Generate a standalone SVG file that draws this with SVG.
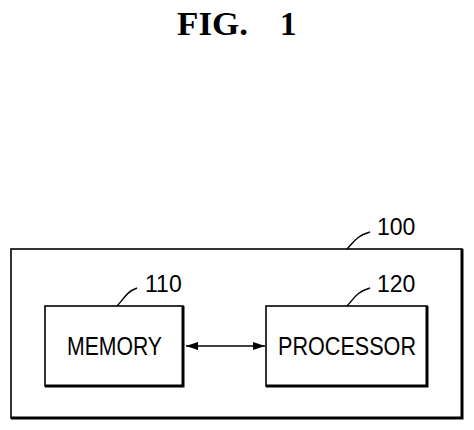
<svg xmlns="http://www.w3.org/2000/svg" width="474" height="430" viewBox="0 0 474 430">
<style>
.box{fill:#fff;stroke:#000;stroke-width:1.6}
.sh{stroke:#000;stroke-width:3;fill:none}
.lead{fill:none;stroke:#000;stroke-width:1.4}
.lbl{font-family:"Liberation Sans",Arial,sans-serif;font-size:25px;fill:#000}
.num{font-family:"Liberation Sans",Arial,sans-serif;font-size:23px;fill:#000}
.ttl{font-family:"Liberation Serif","Times New Roman",serif;font-weight:bold;font-size:33px;fill:#000}
</style>
<defs>
<marker id="ah" viewBox="0 0 12 8" refX="12" refY="4" markerWidth="12" markerHeight="8" markerUnits="userSpaceOnUse" orient="auto-start-reverse">
<path d="M0,0 L12,4 L0,8 Z" fill="#000"/>
</marker>
</defs>
<text class="ttl" x="177" y="35" textLength="71" lengthAdjust="spacingAndGlyphs">FIG.</text>
<text class="ttl" x="280" y="35">1</text>
<g id="n100">
<rect class="box" x="11" y="249" width="451" height="169"/>
<path class="sh" d="M462,249 V418 H11"/>
<path class="lead" d="M347,249 C354,242 356,236 370,232"/>
<text class="num" x="377" y="235">100</text>
</g>
<g id="n110">
<rect class="box" x="45" y="306" width="138" height="80"/>
<path class="sh" d="M183,306 V386 H45"/>
<path class="lead" d="M117,306 C124,299 126,292 137,288"/>
<text class="num" x="145" y="292">110</text>
<text class="lbl" x="67" y="355" textLength="95" lengthAdjust="spacingAndGlyphs">MEMORY</text>
</g>
<g id="n120">
<rect class="box" x="266" y="306" width="161" height="80"/>
<path class="sh" d="M427,306 V386 H266"/>
<path class="lead" d="M347,306 C354,299 356,292 370,288"/>
<text class="num" x="377" y="292">120</text>
<text class="lbl" x="278" y="355" textLength="138" lengthAdjust="spacingAndGlyphs">PROCESSOR</text>
</g>
<g id="connectors">
<line x1="186" y1="346" x2="265" y2="346" stroke="#000" stroke-width="1.6" marker-start="url(#ah)" marker-end="url(#ah)"/>
</g>
</svg>
